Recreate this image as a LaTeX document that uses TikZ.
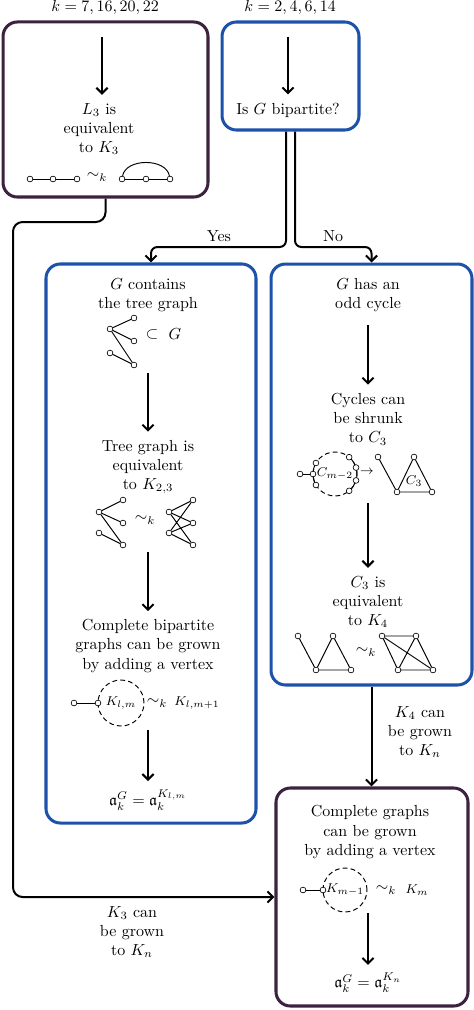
\documentclass[tikz,border=0pt]{standalone}
\usepackage{amsmath,amssymb}
\usetikzlibrary{arrows.meta,calc}
\definecolor{boxdark}{RGB}{60,34,62}
\definecolor{boxblue}{RGB}{28,82,170}
\begin{document}
\begin{tikzpicture}[x=0.625pt,y=-0.625pt,
 darkbox/.style={draw=boxdark, line width=1.9pt, rounded corners=9pt, rectangle, inner sep=0pt},
 bluebox/.style={draw=boxblue, line width=1.9pt, rounded corners=9pt, rectangle, inner sep=0pt},
 arr/.style={line width=1.25pt, -{Straight Barb[length=3.5pt,width=7pt]}},
 txt/.style={align=center, inner xsep=1pt, inner ysep=5pt},
 vtx/.style={circle, draw, fill=white, line width=0.4pt, inner sep=0pt, minimum size=3.6pt},
 edg/.style={line width=0.6pt},
 dcirc/.style={circle, draw, densely dashed, line width=0.6pt, inner sep=0pt, outer sep=0pt}
]
\useasboundingbox (0,0) rectangle (474,1010);

% boxes
\node[darkbox, minimum width=128.1pt, minimum height=109.4pt] (box1) at (105.5,109.5) {};
\node[bluebox, minimum width=85.6pt, minimum height=67.5pt] (box2) at (290.5,76) {};
\node[bluebox, minimum width=131.25pt, minimum height=349.4pt] (box3) at (151,543.5) {};
\node[bluebox, minimum width=125.6pt, minimum height=263.1pt] (box4) at (371.5,474.5) {};
\node[darkbox, minimum width=120pt, minimum height=136.25pt] (box6) at (372,897) {};

% top labels
\node (lab1) at (105,8) {$k=7,16,20,22$};
\node (lab2) at (290,8) {$k=2,4,6,14$};

% box 1
\coordinate (s1) at (102,37);
\node[txt] (t1) at (99,129) {$L_3$ is\\equivalent\\to $K_3$};
\draw[arr] (s1) -- (s1 |- t1.north);
\node[vtx] (p1) at (30,179) {};
\node[vtx] (p2) at (53,179) {};
\node[vtx] (p3) at (77,179) {};
\draw[edg] (p1) -- (p2) -- (p3);
\node (sim1) at (97,177) {$\sim_k$};
\node[vtx] (q1) at (122,179) {};
\node[vtx] (q2) at (146,179) {};
\node[vtx] (q3) at (170,179) {};
\draw[edg] (q1) -- (q2) -- (q3);
\draw[edg] (q1) .. controls ($(q1)+(4,-21)$) and ($(q3)+(-4,-21)$) .. (q3);

% box 2
\coordinate (s2) at (288,37);
\node[txt] (t2) at (288,110) {Is $G$ bipartite?};
\draw[arr] (s2) -- (s2 |- t2.north);

% box 3
\node[txt] (t3a) at (148,295) {$G$ contains\\the tree graph};
\node[vtx] (a1) at (110,329) {};
\node[vtx] (a2) at (134,318) {};
\node[vtx] (a3) at (134,341) {};
\node[vtx] (a4) at (134,365) {};
\node[vtx] (a5) at (110,353) {};
\draw[edg] (a2) -- (a1) -- (a3) (a1) -- (a4) -- (a5);
\node (sub) at (152,334) {$\subset$};
\node (gG) at (175,334) {$G$};
\coordinate (s3a) at (148,373);
\node[txt] (t3b) at (148,467) {Tree graph is\\equivalent\\to $K_{2,3}$};
\draw[arr] (s3a) -- (s3a |- t3b.north);
\node[vtx] (b1) at (99,512) {};
\node[vtx] (b2) at (123,500) {};
\node[vtx] (b3) at (123,523) {};
\node[vtx] (b4) at (123,545) {};
\node[vtx] (b5) at (99,533) {};
\draw[edg] (b2) -- (b1) -- (b3) (b1) -- (b4) -- (b5);
\node (sim2) at (145,520) {$\sim_k$};
\node[vtx] (c1) at (169,512) {};
\node[vtx] (c2) at (169,533) {};
\node[vtx] (c3) at (193,500) {};
\node[vtx] (c4) at (193,523) {};
\node[vtx] (c5) at (193,545) {};
\draw[edg] (c1) -- (c3) (c1) -- (c4) (c1) -- (c5) (c2) -- (c3) (c2) -- (c4) (c2) -- (c5);
\coordinate (s3b) at (148,552);
\node[txt] (t3c) at (148,646) {Complete bipartite\\graphs can be grown\\by adding a vertex};
\draw[arr] (s3b) -- (s3b |- t3c.north);
\node[dcirc, minimum size=28.75pt] (kc) at (121,703) {\footnotesize$K_{l,m}$};
\node[vtx] (d2) at (kc.180) {};
\node[vtx] (d1) at (74,703) {};
\draw[edg] (d1) -- (d2);
\node (sim3) at (157,703) {$\sim_k$};
\node (klm) at (197,703) {\footnotesize$K_{l,m+1}$};
\coordinate (s3c) at (148,730);
\node[txt] (t3d) at (148,800) {$\mathfrak{a}_k^G = \mathfrak{a}_k^{K_{l,m}}$};
\draw[arr] (s3c) -- (s3c |- t3d.north);

% box 4
\node[txt] (t4a) at (368,295) {$G$ has an\\odd cycle};
\coordinate (s4a) at (368,325);
\node[txt] (t4b) at (368,419) {Cycles can\\be shrunk\\to $C_3$};
\draw[arr] (s4a) -- (s4a |- t4b.north);
\node[dcirc, minimum size=27.5pt] (cyc) at (335,474) {\footnotesize$C_{m-2}$};
\draw[edg] (cyc.150) arc[start angle=150, end angle=210, radius=13.75pt];
\draw[edg] (cyc.-50) arc[start angle=-50, end angle=50, radius=13.75pt];
\node[vtx] (y1) at (cyc.150) {};
\node[vtx] (y2) at (cyc.180) {};
\node[vtx] (y3) at (cyc.210) {};
\node[vtx] (y4) at (cyc.50) {};
\node[vtx] (y5) at (cyc.17) {};
\node[vtx] (y6) at (cyc.-17) {};
\node[vtx] (y7) at (cyc.-50) {};
\node[vtx] (y0) at (300,474) {};
\draw[edg] (y0) -- (y2);
\node (to4) at (367,472) {\footnotesize$\to$};
\node[vtx] (e1) at (378,457) {};
\node[vtx] (e2) at (397,492) {};
\node[vtx] (e3) at (414,457) {};
\node[vtx] (e4) at (432,492) {};
\draw[edg] (e1) -- (e2) -- (e3) -- (e4) -- (e2);
\node (c3l) at (414,481) {\footnotesize$C_3$};
\coordinate (s4b) at (368,503);
\node[txt] (t4c) at (368,602) {$C_3$ is\\equivalent\\to $K_4$};
\draw[arr] (s4b) -- (s4b |- t4c.north);
\node[vtx] (f1) at (298,636) {};
\node[vtx] (f2) at (316,670) {};
\node[vtx] (f3) at (333,636) {};
\node[vtx] (f4) at (351,670) {};
\draw[edg] (f1) -- (f2) -- (f3) -- (f4) -- (f2);
\node (sim4) at (366,652) {$\sim_k$};
\node[vtx] (g1) at (382,636) {};
\node[vtx] (g2) at (416,636) {};
\node[vtx] (g3) at (398,670) {};
\node[vtx] (g4) at (433,670) {};
\draw[edg] (g1) -- (g2) -- (g4) -- (g3) -- (g1) -- (g4) (g2) -- (g3);

% box 6
\node[txt] (t6a) at (370,832) {Complete graphs\\can be grown\\by adding a vertex};
\node[dcirc, minimum size=27.5pt] (km) at (345,890) {\footnotesize$K_{m-1}$};
\node[vtx] (h2) at (km.180) {};
\node[vtx] (h1) at (303,890) {};
\draw[edg] (h1) -- (h2);
\node (sim6) at (386,890) {$\sim_k$};
\node (kmm) at (417,890) {\footnotesize$K_m$};
\coordinate (s6) at (368,913);
\node[txt] (t6b) at (368,983) {$\mathfrak{a}_k^G = \mathfrak{a}_k^{K_n}$};
\draw[arr] (s6) -- (s6 |- t6b.north);

% connectors
\coordinate (yturn) at (151,247);
\coordinate (nturn) at (371.5,247);
\draw[arr, rounded corners=4pt] ($(box2.south)+(-4.5,0)$) |- (yturn) -- (box3.north);
\draw[arr, rounded corners=4pt] ($(box2.south)+(4.5,0)$) |- (nturn) -- (box4.north);
\node (yes) at (219,236) {Yes};
\node (no) at (333,236) {No};

\coordinate (lturn) at (13,222);
\draw[arr, rounded corners=6pt] (box1.south) |- (lturn) |- (box6.west);
\node[align=center] (k3lab) at (132,932) {$K_3$ can\\be grown\\to $K_n$};

\draw[arr] (box4.south) -- (box4.south |- box6.north);
\node[align=center] (k4lab) at (420,732) {$K_4$ can\\be grown\\to $K_n$};
\end{tikzpicture}
\end{document}
